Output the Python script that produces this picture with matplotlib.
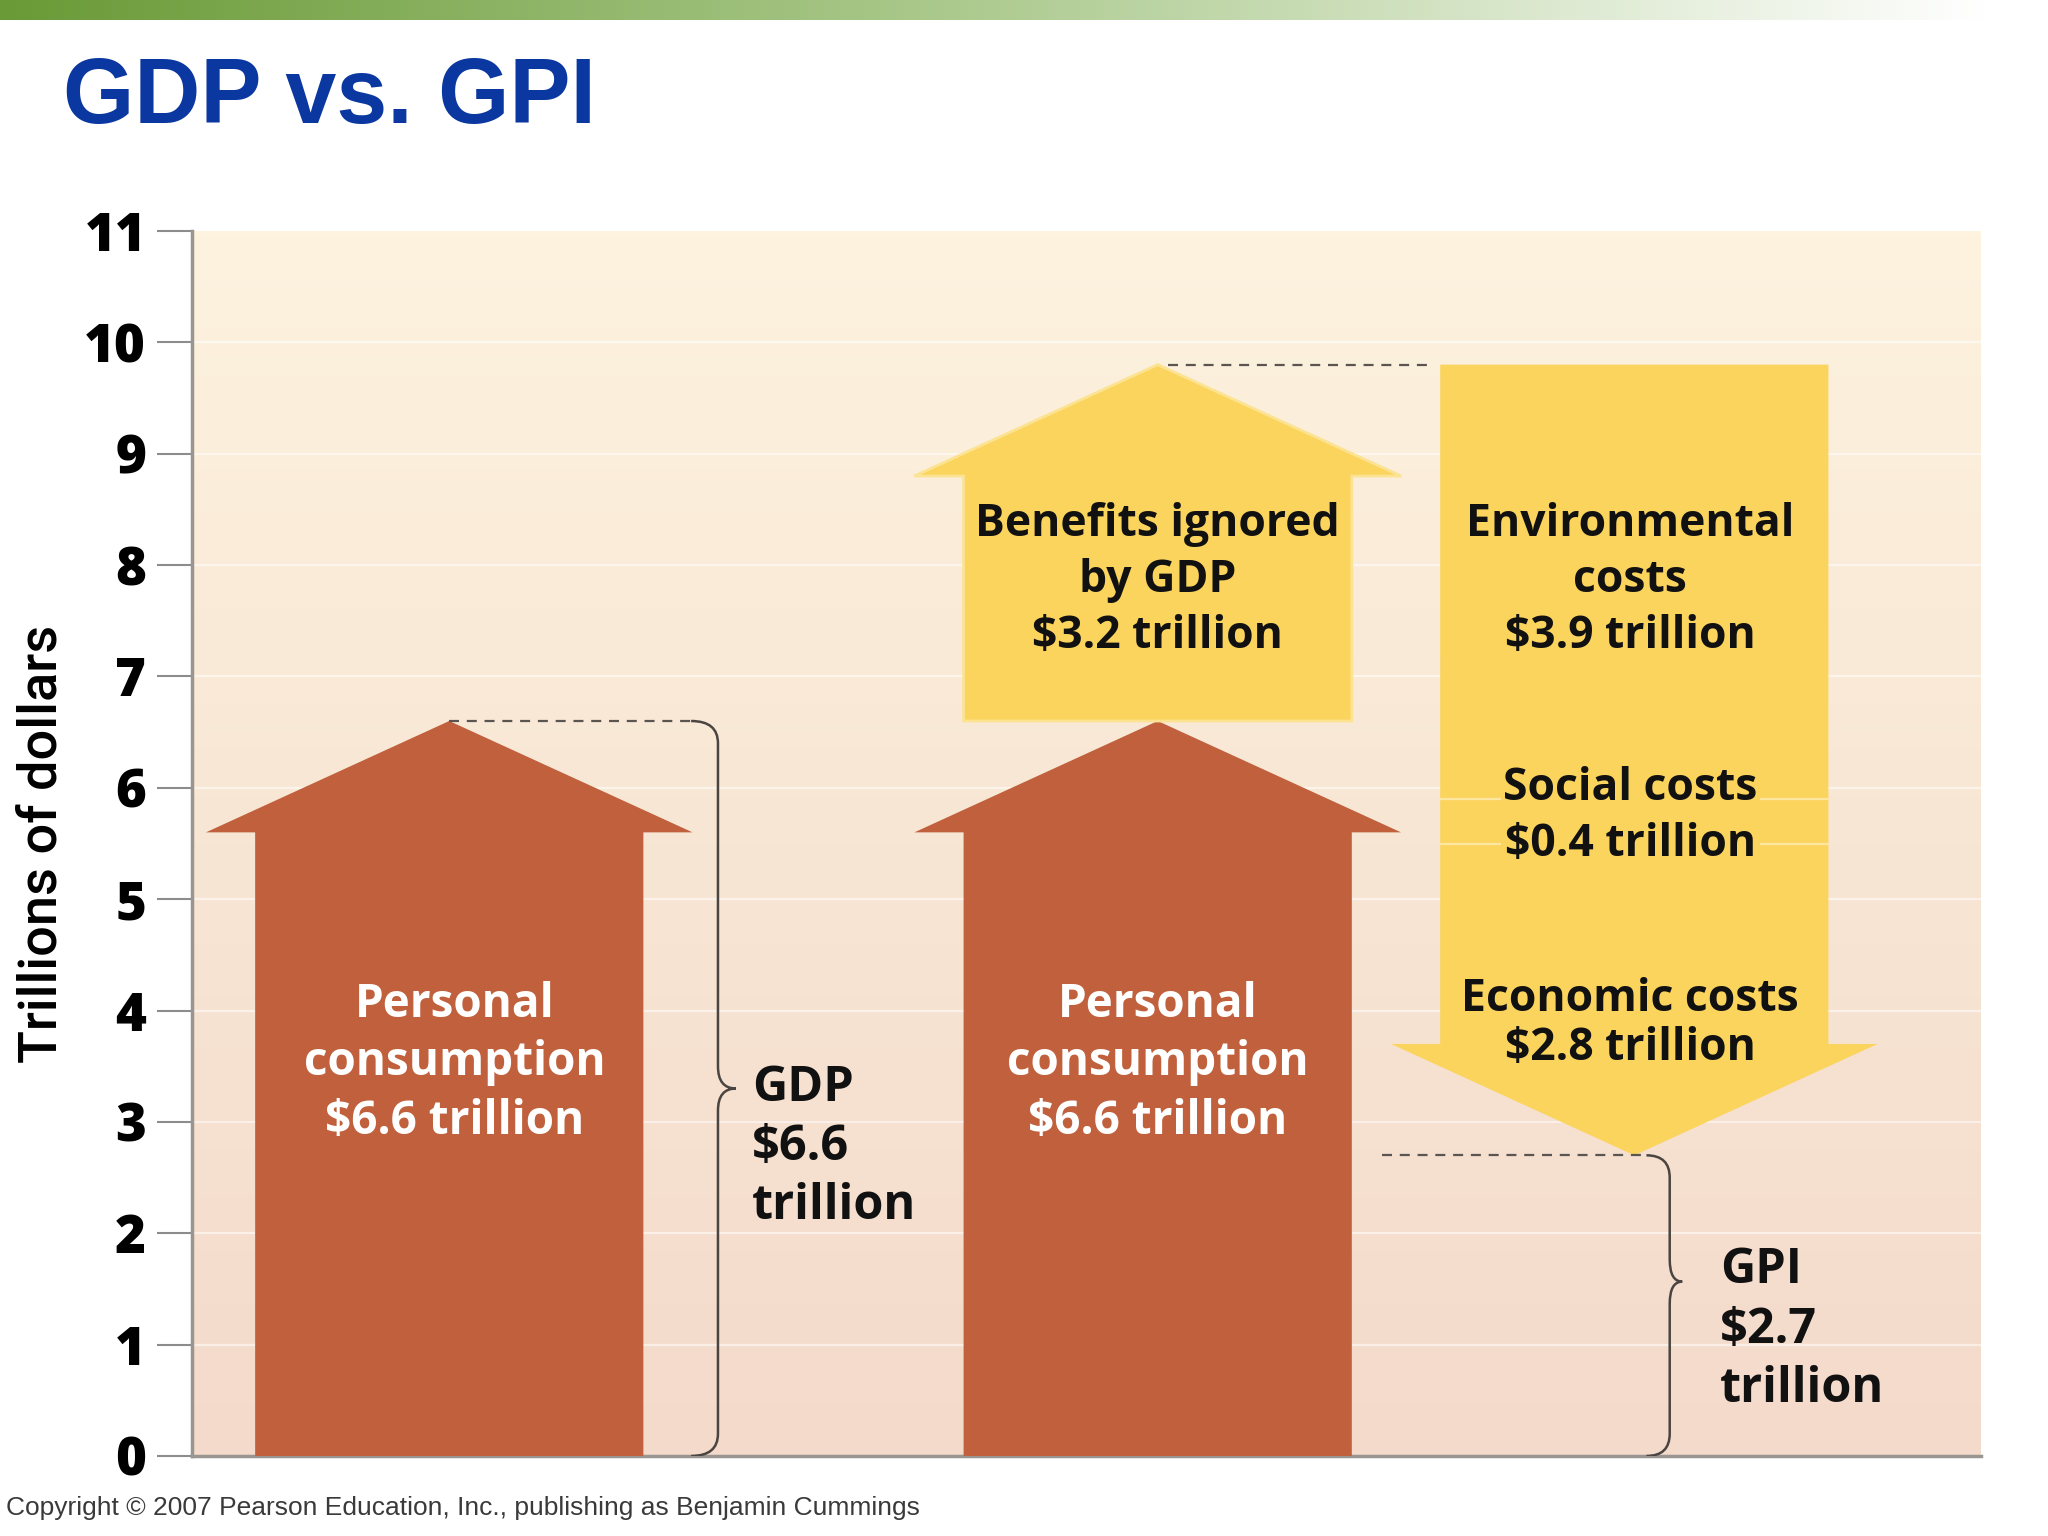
import numpy as np
import matplotlib
matplotlib.use("Agg")
import matplotlib.pyplot as plt
from matplotlib.patches import Polygon, PathPatch
from matplotlib.path import Path
from matplotlib.colors import LinearSegmentedColormap

# ---------------- data ----------------
gdp_consumption = 6.6
benefits_ignored = 3.2
environmental_costs = 3.9
social_costs = 0.4
economic_costs = 2.8
gpi_value = 2.7
y_ticks = list(range(0, 12))

title = "GDP vs. GPI"
y_label = "Trillions of dollars"
consumption_label = "Personal\nconsumption\n$6.6 trillion"
benefits_label = "Benefits ignored\nby GDP\n$3.2 trillion"
env_label = "Environmental\ncosts\n$3.9 trillion"
social_label = "Social costs\n$0.4 trillion"
economic_label = "Economic costs\n$2.8 trillion"
gdp_label = "GDP\n$6.6\ntrillion"
gpi_label = "GPI\n$2.7\ntrillion"
copyright_text = "Copyright \u00a9 2007 Pearson Education, Inc., publishing as Benjamin Cummings"

# ---------------- style ----------------
BROWN = "#C0603D"
YELLOW = "#FBD45E"
TEXT_FONT = ["Open Sans", "DejaVu Sans"]
LABEL_FONT = ["Roboto", "DejaVu Sans"]

fig = plt.figure(figsize=(20.48, 15.36), dpi=100)
fig.patch.set_facecolor("white")

# top gradient band
band = fig.add_axes([0, 1 - 20 / 1536, 1, 20 / 1536])
gcmap = LinearSegmentedColormap.from_list(
    "g", [(0.0, "#6A9A37"), (0.45, "#A9C88A"), (0.97, "#FFFFFF"), (1.0, "#FFFFFF")])
band.imshow(np.linspace(0, 1, 512)[None, :], aspect="auto", cmap=gcmap,
            extent=[0, 1, 0, 1])
band.axis("off")

fig.text(63 / 2048, 1 - 99 / 1536, title, fontsize=66, fontweight="bold",
         color="#0A37A0", family=["Liberation Sans", "DejaVu Sans"],
         ha="left", va="center")

ax = fig.add_axes([192 / 2048, 1 - 1456 / 1536, (1981 - 192) / 2048, (1456 - 231) / 1536])
ax.set_xlim(0, 100)
ax.set_ylim(0, 11)

# background gradient
bcmap = LinearSegmentedColormap.from_list("bg", ["#F4DACB", "#F8E6D4", "#FDF3DF"])
ax.imshow(np.linspace(0, 1, 256)[:, None], aspect="auto", cmap=bcmap,
          extent=[0, 100, 0, 11], origin="lower", zorder=0)
for t in y_ticks[1:-1]:
    ax.axhline(t, color="white", lw=1.6, alpha=0.55, zorder=1)

# spines / ticks
for s in ["top", "right"]:
    ax.spines[s].set_visible(False)
ax.spines["left"].set_color("#9A9590")
ax.spines["left"].set_linewidth(2.5)
ax.spines["bottom"].set_color("#9A9590")
ax.spines["bottom"].set_linewidth(2.5)
ax.set_xticks([])
ax.set_yticks(y_ticks)
ax.set_yticklabels([str(t) for t in y_ticks], fontsize=38, fontweight="heavy",
                   family=TEXT_FONT)
ax.tick_params(axis="y", length=25, width=1.5, color="#8C8C8C", pad=8)
ax.set_ylabel(y_label, fontsize=39, family=LABEL_FONT, fontweight="medium",
              labelpad=12)


def up_arrow(cx, y0, y1, sw, hw, h, color, **kw):
    pts = [(cx - sw, y0), (cx - sw, y1 - h), (cx - hw, y1 - h), (cx, y1),
           (cx + hw, y1 - h), (cx + sw, y1 - h), (cx + sw, y0)]
    ax.add_patch(Polygon(pts, closed=True, facecolor=color, zorder=3, **kw))


def down_arrow(cx, y0, y1, sw, hw, h, color, **kw):
    pts = [(cx - sw, y0), (cx - sw, y1 + h), (cx - hw, y1 + h), (cx, y1),
           (cx + hw, y1 + h), (cx + sw, y1 + h), (cx + sw, y0)]
    ax.add_patch(Polygon(pts, closed=True, facecolor=color, zorder=3, **kw))


SW, HW, HEAD = 10.85, 13.6, 1.0
c1, c2, c3 = 14.38, 53.98, 80.62

# GDP arrow
up_arrow(c1, 0, gdp_consumption, SW, HW, HEAD, BROWN, edgecolor="none")
# GPI column: consumption + benefits
up_arrow(c2, 0, gdp_consumption, SW, HW, HEAD, BROWN, edgecolor="none")
top_total = gdp_consumption + benefits_ignored
up_arrow(c2, gdp_consumption, top_total, SW, HW, HEAD, YELLOW,
         edgecolor="#FCE391", lw=2)
# costs arrow
down_arrow(c3, top_total, gpi_value, SW, HW, HEAD, YELLOW, edgecolor="none")
b1 = top_total - environmental_costs
b2 = b1 - social_costs
for b in (b1, b2):
    ax.plot([c3 - SW, c3 + SW], [b, b], color="#FDE6A0", lw=1.6, zorder=4)

# dashed guide lines
dash = dict(color="#5A5550", lw=1.6, ls=(0, (4.5, 3.5)), zorder=5)
ax.plot([c1, 27.9], [gdp_consumption] * 2, **dash)
ax.plot([c2 + 0.6, 69.4], [top_total] * 2, **dash)
ax.plot([66.5, 81.3], [gpi_value] * 2, **dash)


def brace(x0, xv, xt, ytop, ybot, frac, rx=1.1, ry=0.2):
    ym = ybot + (ytop - ybot) * frac
    verts = [(x0, ytop), (xv, ytop), (xv, ytop - ry),
             (xv, ym + ry),
             (xv, ym), (xt, ym),
             (xv, ym), (xv, ym - ry),
             (xv, ybot + ry),
             (xv, ybot), (x0, ybot)]
    codes = [Path.MOVETO, Path.CURVE3, Path.CURVE3,
             Path.LINETO,
             Path.CURVE3, Path.CURVE3,
             Path.CURVE3, Path.CURVE3,
             Path.LINETO,
             Path.CURVE3, Path.CURVE3]
    ax.add_patch(PathPatch(Path(verts, codes), facecolor="none",
                           edgecolor="#4A4540", lw=1.8, zorder=5))


brace(27.9, 29.4, 30.4, gdp_consumption, 0.0, 0.5)
brace(81.3, 82.6, 83.3, gpi_value, 0.0, 0.58)

LS = 1.33
# labels
ax.text(c1 + 0.3, 3.53, consumption_label, color="white", fontsize=33,
        fontweight="bold", family=TEXT_FONT, ha="center", va="center",
        linespacing=LS, zorder=6)
ax.text(c2, 3.53, consumption_label, color="white", fontsize=33,
        fontweight="bold", family=TEXT_FONT, ha="center", va="center",
        linespacing=LS, zorder=6)
ax.text(c2, 7.86, benefits_label, color="#111111", fontsize=32,
        fontweight="bold", family=TEXT_FONT, ha="center", va="center",
        linespacing=LS, zorder=6)
ax.text(80.4, 7.86, env_label, color="#111111", fontsize=32,
        fontweight="bold", family=TEXT_FONT, ha="center", va="center",
        linespacing=LS, zorder=6)
ax.text(80.4, 5.74, social_label, color="#111111", fontsize=32,
        fontweight="bold", family=TEXT_FONT, ha="center", va="center",
        linespacing=LS, zorder=6,
        bbox=dict(facecolor=YELLOW, edgecolor="none", pad=2))
ax.text(80.4, 3.88, economic_label, color="#111111", fontsize=32,
        fontweight="bold", family=TEXT_FONT, ha="center", va="center",
        linespacing=1.12, zorder=6)
ax.text(31.3, 2.77, gdp_label, color="#111111", fontsize=35,
        fontweight="bold", family=TEXT_FONT, ha="left", va="center",
        linespacing=1.28, zorder=6)
ax.text(85.4, 1.13, gpi_label, color="#111111", fontsize=35,
        fontweight="bold", family=TEXT_FONT, ha="left", va="center",
        linespacing=1.28, zorder=6)

fig.text(6 / 2048, 1 - 1508 / 1536, copyright_text, fontsize=19,
         color="#3A3A3A", family=["Liberation Sans", "DejaVu Sans"],
         ha="left", va="center")

fig.savefig("out.png", dpi=100, facecolor="white")
